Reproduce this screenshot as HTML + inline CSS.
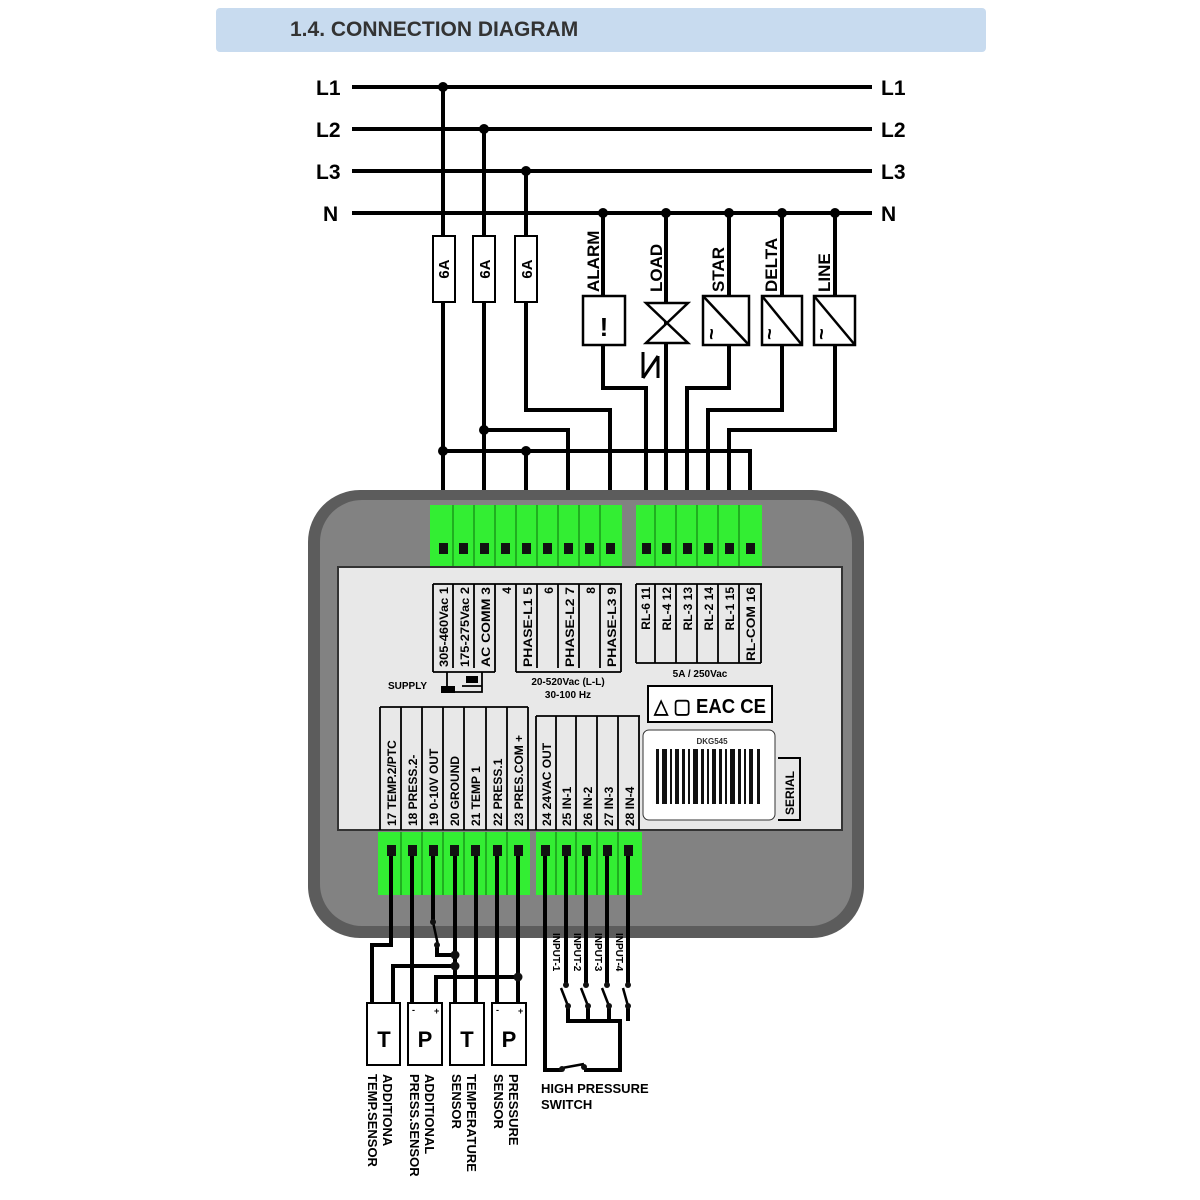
<!DOCTYPE html>
<html><head><meta charset="utf-8"><style>
html,body{margin:0;padding:0;background:#fff;}
svg{display:block;font-family:"Liberation Sans",sans-serif;font-weight:bold;}
</style></head><body>
<svg width="1200" height="1200" viewBox="0 0 1200 1200" xmlns="http://www.w3.org/2000/svg">
<rect width="1200" height="1200" fill="#fff"/>
<rect x="216" y="8" width="770" height="44" rx="4" fill="#c8dbef"/>
<text x="290" y="36" font-size="21" fill="#333">1.4. CONNECTION DIAGRAM</text>

<g stroke="#000" stroke-width="4" fill="none">
<line x1="352" y1="87" x2="872" y2="87"/>
<line x1="352" y1="129" x2="872" y2="129"/>
<line x1="352" y1="171" x2="872" y2="171"/>
<line x1="352" y1="213" x2="872" y2="213"/>
</g>
<g font-size="21" fill="#000">
<text x="316" y="95">L1</text><text x="316" y="137">L2</text><text x="316" y="179">L3</text><text x="323" y="221">N</text>
<text x="881" y="95">L1</text><text x="881" y="137">L2</text><text x="881" y="179">L3</text><text x="881" y="221">N</text>
</g>

<g stroke="#000" stroke-width="4" fill="none" stroke-linejoin="miter">
<polyline points="443,87 443,550"/>
<polyline points="484,129 484,550"/>
<polyline points="526,171 526,410 610,410 610,550"/>
<polyline points="526,451 526,550"/>
<polyline points="484,430 568,430 568,550"/>
<polyline points="443,451 750,451 750,550"/>
<polyline points="603,213 603,388 646,388 646,550"/>
<polyline points="666,213 666,550"/>
<polyline points="729,213 729,388 687,388 687,550"/>
<polyline points="782,213 782,410 708,410 708,550"/>
<polyline points="835,213 835,430 729,430 729,550"/>
</g>
<g fill="#000">
<circle cx="443" cy="87" r="5"/><circle cx="484" cy="129" r="5"/><circle cx="526" cy="171" r="5"/>
<circle cx="603" cy="213" r="5"/><circle cx="666" cy="213" r="5"/><circle cx="729" cy="213" r="5"/><circle cx="782" cy="213" r="5"/><circle cx="835" cy="213" r="5"/>
<circle cx="443" cy="451" r="5"/><circle cx="526" cy="451" r="5"/><circle cx="484" cy="430" r="5"/>
</g>
<g stroke="#000" stroke-width="2" fill="#fff">
<rect x="433" y="236" width="22" height="66"/><rect x="473" y="236" width="22" height="66"/><rect x="515" y="236" width="22" height="66"/>
</g>
<g font-size="15" fill="#000" text-anchor="middle">
<text transform="translate(449,269) rotate(-90)">6A</text>
<text transform="translate(490,269) rotate(-90)">6A</text>
<text transform="translate(532,269) rotate(-90)">6A</text>
</g>
<g font-size="17" fill="#000">
<text transform="translate(599,292) rotate(-90)">ALARM</text>
<text transform="translate(662,292) rotate(-90)">LOAD</text>
<text transform="translate(724,292) rotate(-90)">STAR</text>
<text transform="translate(777,292) rotate(-90)">DELTA</text>
<text transform="translate(830,292) rotate(-90)">LINE</text>
</g>
<g stroke="#000" stroke-width="2.5" fill="#fff">
<rect x="583" y="296" width="42" height="49"/>
<rect x="703" y="296" width="46" height="49"/>
<rect x="762" y="296" width="40" height="49"/>
<rect x="814" y="296" width="41" height="49"/>
<path d="M646,303 L688,303 L646,343 L688,343 Z"/>
<line x1="703" y1="296" x2="749" y2="345"/>
<line x1="762" y1="296" x2="802" y2="345"/>
<line x1="814" y1="296" x2="855" y2="345"/>
</g>
<text x="604" y="336" font-size="26" text-anchor="middle">!</text>
<g font-size="20" fill="#000">
<text transform="translate(718,334) rotate(-90)" text-anchor="middle">~</text>
<text transform="translate(776,334) rotate(-90)" text-anchor="middle">~</text>
<text transform="translate(828,334) rotate(-90)" text-anchor="middle">~</text>
</g>
<path d="M643,352 L643,378 M643,378 L658,356 M658,356 L658,378" stroke="#000" stroke-width="3" fill="none"/>

<rect x="308" y="490" width="556" height="448" rx="52" fill="#5c5c5c"/>
<rect x="320" y="500" width="532" height="426" rx="42" fill="#828282"/>
<rect x="338" y="567" width="504" height="263" fill="#e8e8e8" stroke="#333" stroke-width="2"/>

<rect x="430" y="505" width="192" height="61" fill="#33ee33"/>
<rect x="636" y="505" width="126" height="61" fill="#33ee33"/>
<g stroke="#1a9a1a" stroke-width="1.5">
<line x1="453" y1="505" x2="453" y2="566"/><line x1="474" y1="505" x2="474" y2="566"/><line x1="495" y1="505" x2="495" y2="566"/><line x1="516" y1="505" x2="516" y2="566"/><line x1="537" y1="505" x2="537" y2="566"/><line x1="558" y1="505" x2="558" y2="566"/><line x1="579" y1="505" x2="579" y2="566"/><line x1="600" y1="505" x2="600" y2="566"/>
<line x1="655" y1="505" x2="655" y2="566"/><line x1="676" y1="505" x2="676" y2="566"/><line x1="697" y1="505" x2="697" y2="566"/><line x1="718" y1="505" x2="718" y2="566"/><line x1="739" y1="505" x2="739" y2="566"/>
</g>
<g fill="#111">
<rect x="439" y="543" width="9" height="11"/><rect x="459" y="543" width="9" height="11"/><rect x="480" y="543" width="9" height="11"/><rect x="501" y="543" width="9" height="11"/><rect x="522" y="543" width="9" height="11"/><rect x="543" y="543" width="9" height="11"/><rect x="564" y="543" width="9" height="11"/><rect x="585" y="543" width="9" height="11"/><rect x="606" y="543" width="9" height="11"/>
<rect x="642" y="543" width="9" height="11"/><rect x="662" y="543" width="9" height="11"/><rect x="683" y="543" width="9" height="11"/><rect x="704" y="543" width="9" height="11"/><rect x="725" y="543" width="9" height="11"/><rect x="746" y="543" width="9" height="11"/>
</g>

<g stroke="#000" stroke-width="1.8" fill="none">
<line x1="433" y1="584" x2="622" y2="584"/>
<line x1="433" y1="584" x2="433" y2="672"/><line x1="453" y1="584" x2="453" y2="668"/><line x1="474" y1="584" x2="474" y2="668"/><line x1="495" y1="584" x2="495" y2="672"/>
<line x1="433" y1="672" x2="495" y2="672"/>
<line x1="516" y1="584" x2="516" y2="672"/><line x1="537" y1="584" x2="537" y2="668"/><line x1="558" y1="584" x2="558" y2="668"/><line x1="579" y1="584" x2="579" y2="668"/><line x1="600" y1="584" x2="600" y2="668"/><line x1="621" y1="584" x2="621" y2="672"/>
<line x1="516" y1="672" x2="621" y2="672"/>
<line x1="636" y1="584" x2="762" y2="584"/>
<line x1="636" y1="584" x2="636" y2="663"/><line x1="655" y1="584" x2="655" y2="663"/><line x1="676" y1="584" x2="676" y2="663"/><line x1="697" y1="584" x2="697" y2="663"/><line x1="718" y1="584" x2="718" y2="663"/><line x1="739" y1="584" x2="739" y2="663"/><line x1="761" y1="584" x2="761" y2="663"/>
<line x1="636" y1="663" x2="761" y2="663"/>
<path d="M447,672 L447,692 L482,692 L482,672 M462,686 L482,686" />
</g>
<rect x="441" y="686" width="14" height="7" fill="#000"/>
<rect x="466" y="676" width="12" height="7" fill="#000"/>
<g font-size="12" fill="#000" text-anchor="end">
<text transform="translate(448,587) rotate(-90)" textLength="80" lengthAdjust="spacingAndGlyphs">305-460Vac 1</text>
<text transform="translate(469,587) rotate(-90)" textLength="80" lengthAdjust="spacingAndGlyphs">175-275Vac 2</text>
<text transform="translate(490,587) rotate(-90)" textLength="80" lengthAdjust="spacingAndGlyphs">AC COMM 3</text>
<text transform="translate(511,587) rotate(-90)">4</text>
<text transform="translate(532,587) rotate(-90)" textLength="80" lengthAdjust="spacingAndGlyphs">PHASE-L1 5</text>
<text transform="translate(553,587) rotate(-90)">6</text>
<text transform="translate(574,587) rotate(-90)" textLength="80" lengthAdjust="spacingAndGlyphs">PHASE-L2 7</text>
<text transform="translate(595,587) rotate(-90)">8</text>
<text transform="translate(616,587) rotate(-90)" textLength="80" lengthAdjust="spacingAndGlyphs">PHASE-L3 9</text>
<text transform="translate(650,587) rotate(-90)">RL-6  11</text>
<text transform="translate(671,587) rotate(-90)">RL-4  12</text>
<text transform="translate(692,587) rotate(-90)">RL-3  13</text>
<text transform="translate(713,587) rotate(-90)">RL-2  14</text>
<text transform="translate(734,587) rotate(-90)">RL-1  15</text>
<text transform="translate(755,587) rotate(-90)" textLength="74" lengthAdjust="spacingAndGlyphs">RL-COM 16</text>
</g>
<g font-size="10" fill="#000">
<text x="388" y="689">SUPPLY</text>
<text x="568" y="685" text-anchor="middle">20-520Vac (L-L)</text>
<text x="568" y="698" text-anchor="middle">30-100 Hz</text>
<text x="700" y="677" text-anchor="middle">5A / 250Vac</text>
</g>

<rect x="648" y="686" width="124" height="36" fill="#fff" stroke="#000" stroke-width="2"/>
<text x="654" y="713" font-size="20" fill="#000" textLength="112" lengthAdjust="spacingAndGlyphs">△ ▢ EAC CE</text>
<rect x="643" y="730" width="132" height="90" rx="6" fill="#fff" stroke="#333" stroke-width="1"/>
<text x="712" y="744" font-size="8" text-anchor="middle" fill="#333">DKG545</text>
<g fill="#111">
<rect x="656" y="749" width="3" height="55"/><rect x="662" y="749" width="5" height="55"/><rect x="670" y="749" width="2" height="55"/><rect x="675" y="749" width="4" height="55"/><rect x="682" y="749" width="3" height="55"/><rect x="688" y="749" width="2" height="55"/><rect x="693" y="749" width="5" height="55"/><rect x="701" y="749" width="3" height="55"/><rect x="707" y="749" width="2" height="55"/><rect x="712" y="749" width="4" height="55"/><rect x="719" y="749" width="3" height="55"/><rect x="725" y="749" width="2" height="55"/><rect x="730" y="749" width="5" height="55"/><rect x="738" y="749" width="3" height="55"/><rect x="744" y="749" width="2" height="55"/><rect x="749" y="749" width="4" height="55"/><rect x="757" y="749" width="3" height="55"/>
</g>
<path d="M778,758 L800,758 L800,820 L778,820" stroke="#000" stroke-width="2" fill="none"/>
<text transform="translate(794,815) rotate(-90)" font-size="12" fill="#000">SERIAL</text>

<g stroke="#000" stroke-width="1.8" fill="none">
<line x1="380" y1="707" x2="528" y2="707"/>
<line x1="380" y1="707" x2="380" y2="830"/><line x1="401" y1="707" x2="401" y2="830"/><line x1="422" y1="707" x2="422" y2="830"/><line x1="443" y1="707" x2="443" y2="830"/><line x1="464" y1="707" x2="464" y2="830"/><line x1="486" y1="707" x2="486" y2="830"/><line x1="507" y1="707" x2="507" y2="830"/><line x1="528" y1="707" x2="528" y2="830"/>
<line x1="536" y1="716" x2="640" y2="716"/>
<line x1="536" y1="716" x2="536" y2="830"/><line x1="556" y1="716" x2="556" y2="830"/><line x1="576" y1="716" x2="576" y2="830"/><line x1="597" y1="716" x2="597" y2="830"/><line x1="618" y1="716" x2="618" y2="830"/><line x1="639" y1="716" x2="639" y2="830"/>
</g>
<g font-size="12" fill="#000">
<text transform="translate(396,826) rotate(-90)">17 TEMP.2/PTC</text>
<text transform="translate(417,826) rotate(-90)">18 PRESS.2-</text>
<text transform="translate(438,826) rotate(-90)">19 0-10V OUT</text>
<text transform="translate(459,826) rotate(-90)">20 GROUND</text>
<text transform="translate(480,826) rotate(-90)">21 TEMP 1</text>
<text transform="translate(502,826) rotate(-90)">22 PRESS.1</text>
<text transform="translate(523,826) rotate(-90)">23 PRES.COM +</text>
<text transform="translate(551,826) rotate(-90)">24 24VAC OUT</text>
<text transform="translate(571,826) rotate(-90)">25 IN-1</text>
<text transform="translate(592,826) rotate(-90)">26 IN-2</text>
<text transform="translate(613,826) rotate(-90)">27 IN-3</text>
<text transform="translate(634,826) rotate(-90)">28 IN-4</text>
</g>

<rect x="378" y="832" width="152" height="63" fill="#33ee33"/>
<rect x="536" y="832" width="106" height="63" fill="#33ee33"/>
<g stroke="#1a9a1a" stroke-width="1.5">
<line x1="401" y1="832" x2="401" y2="895"/><line x1="422" y1="832" x2="422" y2="895"/><line x1="443" y1="832" x2="443" y2="895"/><line x1="464" y1="832" x2="464" y2="895"/><line x1="486" y1="832" x2="486" y2="895"/><line x1="507" y1="832" x2="507" y2="895"/>
<line x1="556" y1="832" x2="556" y2="895"/><line x1="576" y1="832" x2="576" y2="895"/><line x1="597" y1="832" x2="597" y2="895"/><line x1="618" y1="832" x2="618" y2="895"/>
</g>

<g stroke="#000" stroke-width="4" fill="none">
<polyline points="391,848 391,945 372,945 372,1003"/>
<polyline points="412,848 412,1003"/>
<polyline points="433,848 433,922"/>
<polyline points="437,945 437,955 456,955"/>
<polyline points="455,848 455,1003"/>
<polyline points="393,1003 393,966 455,966"/>
<polyline points="476,848 476,1003"/>
<polyline points="497,848 497,1003"/>
<polyline points="518,848 518,1003"/>
<polyline points="436,1003 436,977 518,977"/>
<polyline points="545,848 545,1070 562,1070"/>
<polyline points="584,1070 620,1070 620,1021 566,1021"/>
<polyline points="566,848 566,985"/><polyline points="568,1006 568,1021"/>
<polyline points="586,848 586,985"/><polyline points="588,1006 588,1021"/>
<polyline points="607,848 607,985"/><polyline points="609,1006 609,1021"/>
<polyline points="628,848 628,985"/><polyline points="628,1006 628,1021"/>
</g>
<g stroke="#000" stroke-width="2.5">
<line x1="433" y1="922" x2="438" y2="945"/>
<line x1="562" y1="1068" x2="584" y2="1064"/>
<line x1="561" y1="988" x2="568" y2="1006"/>
<line x1="581" y1="988" x2="588" y2="1006"/>
<line x1="602" y1="988" x2="609" y2="1006"/>
<line x1="623" y1="988" x2="628" y2="1006"/>
</g>
<g fill="#111">
<rect x="387" y="845" width="9" height="11"/><rect x="408" y="845" width="9" height="11"/><rect x="429" y="845" width="9" height="11"/><rect x="450" y="845" width="9" height="11"/><rect x="471" y="845" width="9" height="11"/><rect x="493" y="845" width="9" height="11"/><rect x="514" y="845" width="9" height="11"/>
<rect x="541" y="845" width="9" height="11"/><rect x="562" y="845" width="9" height="11"/><rect x="582" y="845" width="9" height="11"/><rect x="603" y="845" width="9" height="11"/><rect x="624" y="845" width="9" height="11"/>
<circle cx="455" cy="955" r="4.5"/><circle cx="455" cy="966" r="4.5"/><circle cx="518" cy="977" r="4.5"/>
<circle cx="433" cy="922" r="3"/><circle cx="437" cy="945" r="3"/>
<circle cx="566" cy="985" r="3"/><circle cx="568" cy="1006" r="3"/><circle cx="586" cy="985" r="3"/><circle cx="588" cy="1006" r="3"/><circle cx="607" cy="985" r="3"/><circle cx="609" cy="1006" r="3"/><circle cx="628" cy="985" r="3"/><circle cx="628" cy="1006" r="3"/>
<circle cx="562" cy="1069" r="3"/><circle cx="584" cy="1067" r="3"/>
</g>
<g font-size="10" fill="#000">
<text transform="translate(553,933) rotate(90)">INPUT-1</text>
<text transform="translate(574,933) rotate(90)">INPUT-2</text>
<text transform="translate(595,933) rotate(90)">INPUT-3</text>
<text transform="translate(616,933) rotate(90)">INPUT-4</text>
</g>

<g stroke="#000" stroke-width="2" fill="#fff">
<rect x="367" y="1003" width="33" height="62"/><rect x="408" y="1003" width="34" height="62"/><rect x="450" y="1003" width="34" height="62"/><rect x="492" y="1003" width="34" height="62"/>
</g>
<g font-size="22" text-anchor="middle" fill="#000">
<text x="384" y="1047">T</text><text x="425" y="1047">P</text><text x="467" y="1047">T</text><text x="509" y="1047">P</text>
</g>
<g font-size="9" fill="#000"><text x="412" y="1013">-</text><text x="434" y="1014">+</text><text x="496" y="1013">-</text><text x="518" y="1014">+</text></g>
<g font-size="13" fill="#000">
<text transform="translate(383,1074) rotate(90)">ADDITIONA</text>
<text transform="translate(368,1074) rotate(90)">TEMP.SENSOR</text>
<text transform="translate(425,1074) rotate(90)">ADDITIONAL</text>
<text transform="translate(410,1074) rotate(90)">PRESS.SENSOR</text>
<text transform="translate(467,1074) rotate(90)">TEMPERATURE</text>
<text transform="translate(452,1074) rotate(90)">SENSOR</text>
<text transform="translate(509,1074) rotate(90)">PRESSURE</text>
<text transform="translate(494,1074) rotate(90)">SENSOR</text>
</g>
<g font-size="13" fill="#000">
<text x="541" y="1093">HIGH PRESSURE</text>
<text x="541" y="1109">SWITCH</text>
</g>
</svg>
</body></html>
